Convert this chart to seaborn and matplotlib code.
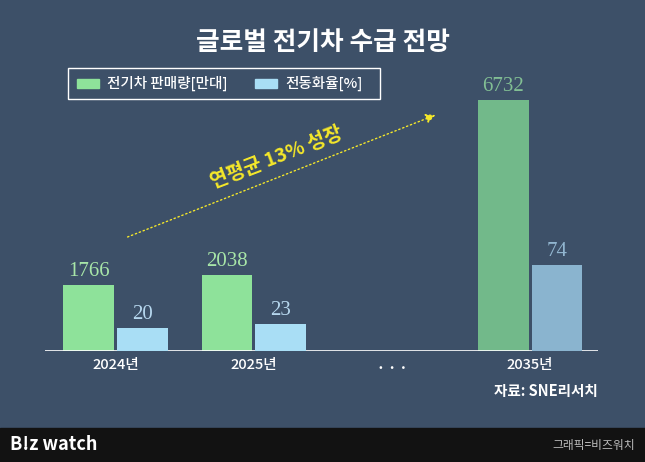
import pandas as pd
import seaborn as sns
import matplotlib.pyplot as plt
from matplotlib.patches import Rectangle, FancyArrowPatch

# Data
years = ["2024년", "2025년", "", "2035년"]
ev_sales = [1766, 2038, None, 6732]      # 만대
elec_rate = [20, 23, None, 74]           # %
series = ["전기차 판매량[만대]", "전동화율[%]"]

BG = "#3d5068"
KR = ["Noto Sans CJK KR", "Noto Sans CJK JP", "Noto Sans CJK SC", "DejaVu Sans"]
SERIF = "Liberation Serif"
plt.rcParams["font.family"] = KR

rows = []
for y, e, r in zip(years, ev_sales, elec_rate):
    rows.append({"year": y, "series": series[0], "ev": e, "pct": None})
    rows.append({"year": y, "series": series[1], "ev": None, "pct": r})
df = pd.DataFrame(rows)
df["ev"] = df["ev"].astype(float)
df["pct"] = df["pct"].astype(float)

fig = plt.figure(figsize=(6.45, 4.62), dpi=100)
fig.patch.set_facecolor(BG)
ax1 = fig.add_axes([0.07, 0.240, 0.857, 0.544])
ax2 = ax1.twinx()
for ax in (ax1, ax2):
    ax.set_facecolor("none")
    for s in ax.spines.values():
        s.set_visible(False)

pal = {series[0]: "#8ee29a", series[1]: "#a9def5"}
sns.barplot(data=df, x="year", y="ev", hue="series", order=years, hue_order=series,
            palette=pal, width=0.78, gap=0.06, ax=ax1, legend=False)
sns.barplot(data=df, x="year", y="pct", hue="series", order=years, hue_order=series,
            palette=pal, width=0.78, gap=0.06, ax=ax2, legend=False)

ax1.set_ylim(0, 6732)
ax2.set_ylim(0, 74 * 251 / 86)
ax1.set_xlim(-0.51, 3.49)
for ax in (ax1, ax2):
    ax.set_yticks([])
    ax.set_ylabel("")
    ax.set_xlabel("")
ax2.tick_params(axis="x", labelbottom=False, length=0)

# recolor 2035 bars muted, add value labels
for ax, col, mcol, lcol, mlcol in [
        (ax1, "#8ee29a", "#72b98a", "#a8e6a8", "#82bf94"),
        (ax2, "#a9def5", "#8ab4cf", "#b6d7ee", "#92b6d0")]:
    for p in ax.patches:
        h = p.get_height()
        if not h or h != h:
            continue
        cx = p.get_x() + p.get_width() / 2
        late = cx > 2.5
        p.set_facecolor(mcol if late else col)
        ax.annotate(f"{int(h)}", (cx, h), xytext=(0, 3), textcoords="offset points",
                    ha="center", va="bottom", fontsize=15, family=SERIF,
                    color=mlcol if late else lcol, annotation_clip=False)

ax1.tick_params(axis="x", length=0, pad=5, colors="white", labelsize=10.5)
for lab in ax1.get_xticklabels():
    lab.set_fontweight("medium")
ax1.axhline(0, color="white", lw=1.2)

# title
fig.text(0.5, 0.909, "글로벌 전기차 수급 전망", ha="center", va="center",
         color="white", fontsize=18.5, fontweight="bold")

# legend box
fig.patches.append(Rectangle((68 / 645, 1 - 99 / 462), 312 / 645, 31 / 462,
                             transform=fig.transFigure, fill=False,
                             edgecolor="white", lw=1))
fig.patches.append(Rectangle((77 / 645, 1 - 88 / 462), 22 / 645, 9 / 462,
                             transform=fig.transFigure, color="#8ee29a"))
fig.text(107 / 645, 1 - 83 / 462, series[0], va="center", color="white",
         fontsize=10.5, fontweight="medium")
fig.patches.append(Rectangle((255 / 645, 1 - 88 / 462), 22 / 645, 9 / 462,
                             transform=fig.transFigure, color="#a9def5"))
fig.text(285 / 645, 1 - 83 / 462, series[1], va="center", color="white",
         fontsize=10.5, fontweight="medium")

# growth arrow
fig.patches.append(FancyArrowPatch((125 / 645, 1 - 238 / 462), (438 / 645, 1 - 114 / 462),
                                   transform=fig.transFigure, arrowstyle="-|>",
                                   mutation_scale=14, color="#f5e82a", lw=1,
                                   linestyle=(0, (1, 2))))
fig.text(277 / 645, 1 - 158 / 462, "연평균 13% 성장", ha="center", va="center",
         rotation=21, color="#f5e82a", fontsize=14, fontweight="bold")

fig.text(392 / 645, 1 - 368 / 462, "•   •   •", ha="center", va="center",
         color="white", fontsize=8)
fig.text(598 / 645, 1 - 391 / 462, "자료: SNE리서치", ha="right", va="center",
         color="white", fontsize=10.5, fontweight="bold")

# bottom band
fig.patches.append(Rectangle((0, 0), 1, 34 / 462, transform=fig.transFigure,
                             color="#121212"))
fig.text(10 / 645, 17 / 462, "B!z watch", va="center", color="white",
         fontsize=13, fontweight="bold")
fig.text(635 / 645, 17 / 462, "그래픽=비즈워치", ha="right", va="center",
         color="#bbbbbb", fontsize=8.5)

fig.savefig("out.png", dpi=100, facecolor=BG)
